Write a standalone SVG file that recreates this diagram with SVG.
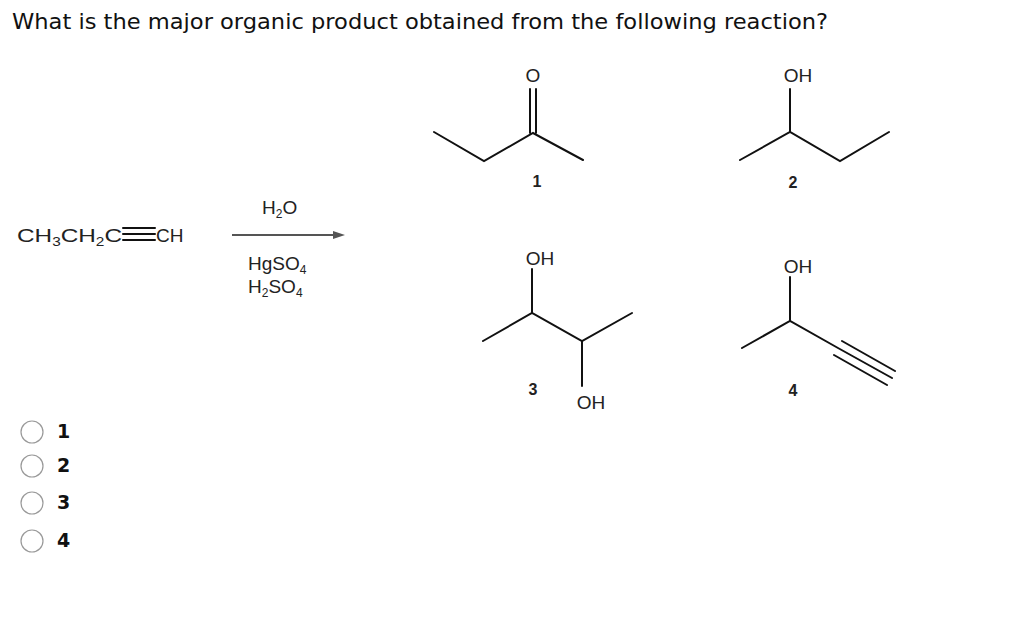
<svg xmlns="http://www.w3.org/2000/svg" width="1024" height="631" viewBox="0 0 1024 631">
<style>
.b{fill:none;stroke:#111;stroke-width:2;stroke-linecap:round}
.t{font-family:"Liberation Sans",Arial,sans-serif;font-size:19px;fill:#222}
.s{font-size:12px}
.n{font-family:"Liberation Sans",Arial,sans-serif;font-size:16px;font-weight:bold;fill:#222}
.r{fill:#fff;stroke:#999;stroke-width:1.2}
</style>
<rect width="1024" height="631" fill="#fff"/>
<text x="12" y="29" font-family="DejaVu Sans,sans-serif" font-size="21" fill="#111" textLength="816" lengthAdjust="spacingAndGlyphs">What is the major organic product obtained from the following reaction?</text>
<g id="reactant"><text class="t" x="17" y="242" textLength="105" lengthAdjust="spacingAndGlyphs">CH<tspan class="s" dy="4">3</tspan><tspan dy="-4">CH</tspan><tspan class="s" dy="4">2</tspan><tspan dy="-4">C</tspan></text>
<path class="b" d="M123 228H155M123 234H155M123 240H155" stroke-width="1.6"/>
<text class="t" x="156" y="242">CH</text></g>
<g id="connectors"><path d="M232 235H336" stroke="#555" stroke-width="2"/><path d="M333 231L345 235L333 239Z" fill="#555"/></g>
<g id="reagents"><text class="t" x="262" y="214">H<tspan class="s" dy="4">2</tspan><tspan dy="-4">O</tspan></text>
<text class="t" x="248" y="270">HgSO<tspan class="s" dy="4">4</tspan></text>
<text class="t" x="248" y="293">H<tspan class="s" dy="4">2</tspan><tspan dy="-4">SO</tspan><tspan class="s" dy="4">4</tspan></text></g>
<g id="m1"><path class="b" d="M434 132L484 161L533 133L583 160M530 89V133M536 89V133"/><text class="t" x="533" y="82" text-anchor="middle">O</text><text class="n" x="537" y="187" text-anchor="middle">1</text></g>
<g id="m2"><path class="b" d="M740 160L790 132L840 161L889 132M790 89V132"/><text class="t" x="798" y="82" text-anchor="middle">OH</text><text class="n" x="793" y="188" text-anchor="middle">2</text></g>
<g id="m3"><path class="b" d="M483 341L532 313L582 341L632 313M532 269V313M582 341V386"/><text class="t" x="540" y="265" text-anchor="middle">OH</text><text class="t" x="591" y="409" text-anchor="middle">OH</text><text class="n" x="533" y="395" text-anchor="middle">3</text></g>
<g id="m4"><path class="b" d="M742 348L790 321L838 348M790 277V321M838 348L892 378M842 341L895 371M834 355L887 385"/><text class="t" x="798" y="273" text-anchor="middle">OH</text><text class="n" x="793" y="396" text-anchor="middle">4</text></g>
<g id="options" font-family="DejaVu Sans,sans-serif" font-size="19" font-weight="bold" fill="#111">
<circle class="r" cx="32" cy="432" r="11"/><text x="57" y="438">1</text>
<circle class="r" cx="32" cy="466" r="11"/><text x="57" y="472">2</text>
<circle class="r" cx="32" cy="503" r="11"/><text x="57" y="509">3</text>
<circle class="r" cx="32" cy="541" r="11"/><text x="57" y="547">4</text></g>
</svg>
